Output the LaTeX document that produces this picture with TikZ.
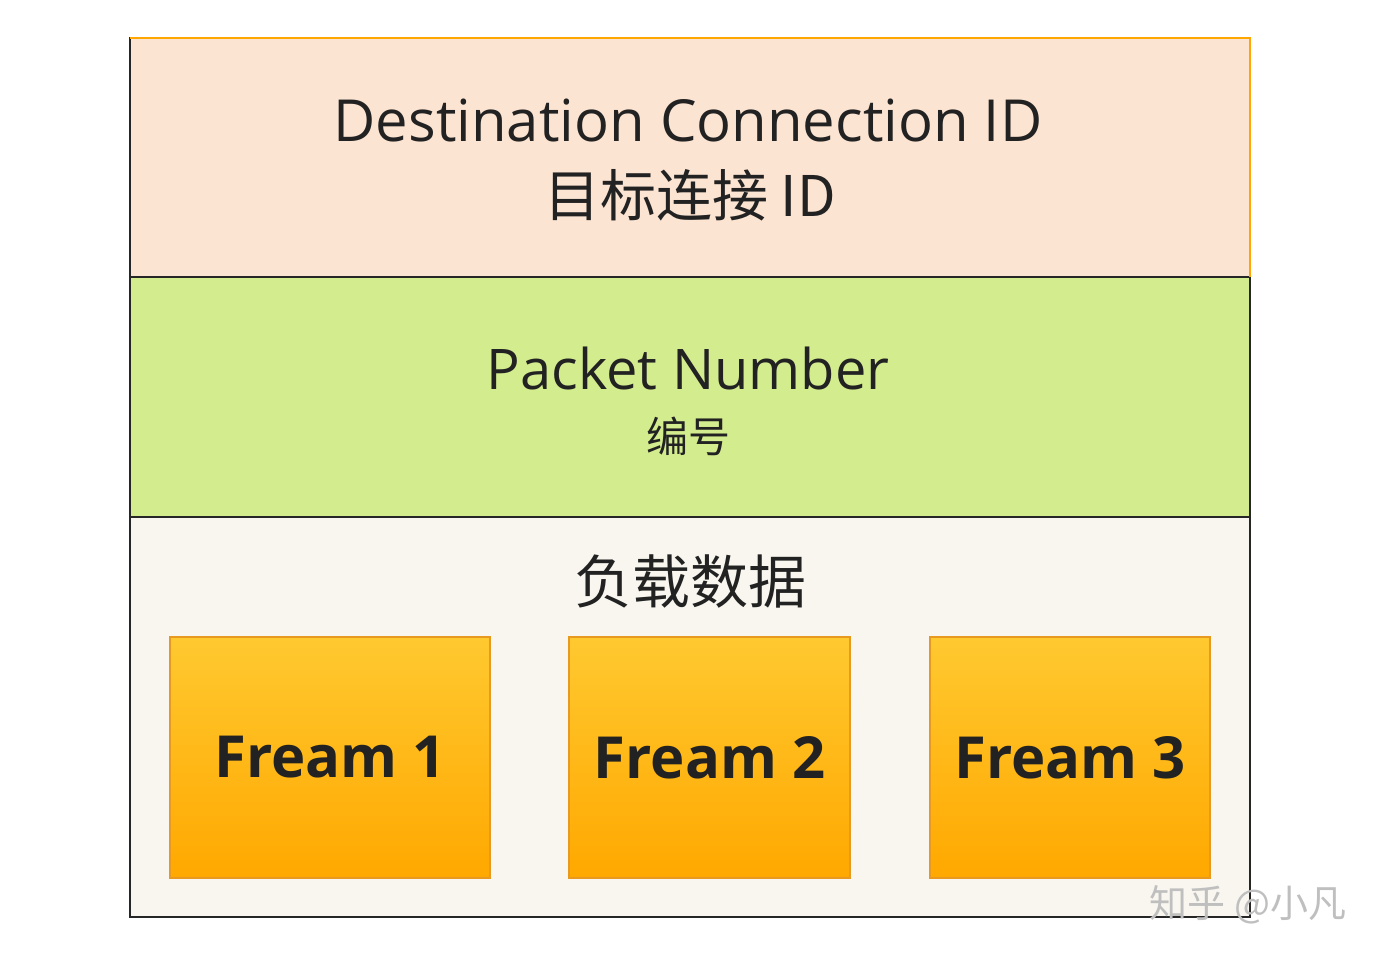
\documentclass[tikz,border=0pt]{standalone}
\usepackage{fontspec}
\setmainfont{Open Sans}
\newfontfamily\cjk{Noto Sans CJK SC}
\definecolor{peach}{HTML}{FCE4D2}
\definecolor{lgreen}{HTML}{D3EC8E}
\definecolor{cream}{HTML}{F8F6EE}
\definecolor{ftop}{HTML}{FFC930}
\definecolor{fbot}{HTML}{FFA800}
\definecolor{fborder}{HTML}{E89A20}
\definecolor{txt}{HTML}{222222}
\begin{document}
\begin{tikzpicture}[x=1pt,y=-1pt,
  band/.style={draw=black!85,line width=2pt},
  frame/.style={draw=fborder,line width=2pt,top color=ftop,bottom color=fbot},
  lab/.style={text=txt,align=center,inner sep=0pt}]
\useasboundingbox[fill=white] (0,0) rectangle (1392,964);
\path[band,fill=cream] (130,517) rectangle (1250,917);
\path[band,fill=lgreen] (130,277) rectangle (1250,517);
\path[band,fill=peach] (130,38) rectangle (1250,277);
\draw[line width=2pt,draw=orange!70!yellow] (130,38) -- (1250,38) -- (1250,277);
\node[lab,font=\fontsize{58}{66}\selectfont] (d1) at (688,120) {Destination Connection ID};
\node[lab,font=\cjk\fontsize{56}{66}\selectfont] (d2) at (690,195) {目标连接 ID};
\node[lab,font=\fontsize{56}{66}\selectfont] (p1) at (688,368) {Packet Number};
\node[lab,font=\cjk\fontsize{42}{50}\selectfont] (p2) at (688,436) {编号};
\node[lab,font=\cjk\fontsize{58}{66}\selectfont] (load) at (690,582) {负载数据};
\node[frame,minimum width=320pt,minimum height=241pt,font=\fontsize{58}{66}\selectfont\bfseries,text=txt] (f1) at (330,757.5) {Fream 1};
\node[frame,minimum width=281pt,minimum height=241pt,font=\fontsize{58}{66}\selectfont\bfseries,text=txt] (f2) at (709.5,757.5) {Fream 2};
\node[frame,minimum width=280pt,minimum height=241pt,font=\fontsize{58}{66}\selectfont\bfseries,text=txt] (f3) at (1070,757.5) {Fream 3};
\node[lab,font=\cjk\fontsize{38}{44}\selectfont,text=black!25] (wm) at (1248,905) {知乎 @小凡};
\end{tikzpicture}
\end{document}
